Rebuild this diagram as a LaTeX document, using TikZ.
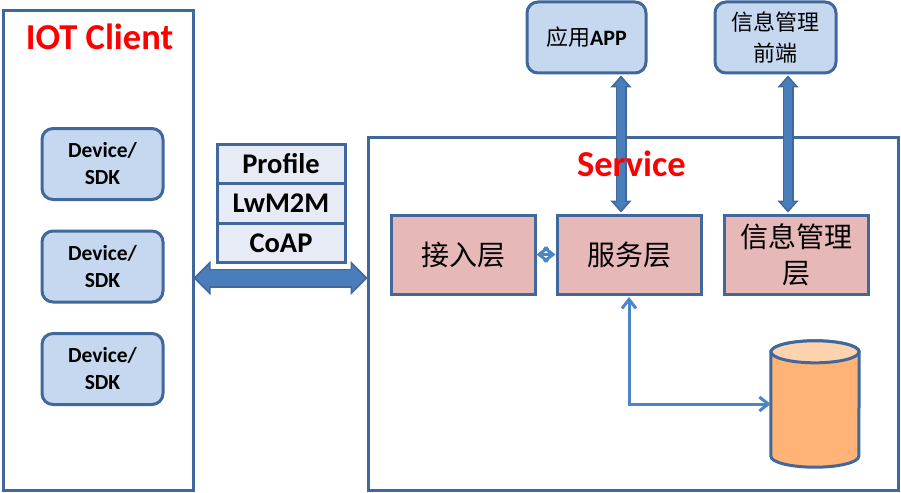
\documentclass[tikz,border=0pt]{standalone}
\usepackage{fontspec}
\setmainfont{Carlito}
\newfontfamily\cjk{Noto Sans CJK SC}
\usetikzlibrary{arrows.meta,calc}
\definecolor{edgeblue}{HTML}{41689C}
\definecolor{lightblue}{HTML}{C6D8F0}
\definecolor{paleblue}{HTML}{E6EBF5}
\definecolor{pinkfill}{HTML}{E6B8B7}
\definecolor{arrowblue}{HTML}{4A7EBB}
\definecolor{thinblue}{HTML}{4A86C8}
\definecolor{cylbody}{HTML}{FFB377}
\definecolor{cyltop}{HTML}{FFD3AE}
\tikzset{
  panel/.style={draw=edgeblue,line width=3pt,fill=white,rectangle,inner sep=0pt},
  softbox/.style={draw=edgeblue,line width=3pt,fill=lightblue,rectangle,rounded corners=11pt,inner sep=0pt,minimum height=71pt,align=center,font=\fontsize{21.5}{27}\selectfont\bfseries},
  stackbox/.style={draw=edgeblue,line width=3pt,fill=paleblue,rectangle,inner sep=0pt,minimum width=128pt,minimum height=39.5pt,font=\fontsize{28.5}{30}\selectfont\bfseries},
  layerbox/.style={draw=edgeblue,line width=3pt,fill=pinkfill,rectangle,inner sep=0pt,minimum width=144pt,minimum height=79pt,align=center,font=\cjk\fontsize{28}{36}\selectfont},
  heading/.style={text=red,inner sep=0pt,font=\fontsize{36.5}{38}\selectfont\bfseries},
  fatupborder/.style={line width=11pt,draw=edgeblue,{Triangle[width=21pt,length=12pt,color=edgeblue,fill=arrowblue,line width=1.5pt]}-{Triangle[width=21pt,length=12pt,color=edgeblue,fill=arrowblue,line width=1.5pt]}},
  fatupinner/.style={line width=7.5pt,draw=arrowblue,shorten <=10pt,shorten >=10pt},
  fatwideborder/.style={line width=19pt,draw=edgeblue,{Triangle[width=34pt,length=17pt,color=edgeblue,fill=arrowblue,line width=1.5pt]}-{Triangle[width=34pt,length=17pt,color=edgeblue,fill=arrowblue,line width=1.5pt]}},
  fatwideinner/.style={line width=15.5pt,draw=arrowblue,shorten <=15pt,shorten >=15pt},
  thinarrow/.style={draw=thinblue,line width=3pt,{Straight Barb[length=9pt,width=14pt]}-{Straight Barb[length=9pt,width=14pt]}},
  cyledge/.style={draw=edgeblue,line width=3pt}
}
\begin{document}
\begin{tikzpicture}[x=1pt,y=-1pt]
\useasboundingbox (0,0) rectangle (901,492);
\fill[white] (0,0) rectangle (901,492);
% panels
\node[panel,minimum width=190pt,minimum height=479pt] (client) at (98,250.5) {};
\node[panel,minimum width=530pt,minimum height=353pt] (service) at (633,313.5) {};
% client devices
\node[softbox,minimum width=121pt] (dev1) at (102.5,164) {Device/\\SDK};
\node[softbox,minimum width=121pt] (dev2) at (102.5,266.5) {Device/\\SDK};
\node[softbox,minimum width=121pt] (dev3) at (102.5,369) {Device/\\SDK};
% protocol stack
\node[stackbox] (profile) at (281,164) {Profile};
\node[stackbox] (lwm) at (281,203.5) {LwM2M};
\node[stackbox] (coap) at (281,243) {CoAP};
% top boxes
\node[softbox,minimum width=119pt,font=\fontsize{22}{32}\selectfont\bfseries] (app) at (586.5,37.5) {{\cjk\mdseries 应用}APP};
\node[softbox,minimum width=121pt,font=\cjk\fontsize{22}{31}\selectfont] (front) at (775.5,37.5) {信息管理\\前端};
% layers
\node[layerbox] (access) at (463,254.5) {接入层};
\node[layerbox] (svc) at (629,254.5) {服务层};
\node[layerbox] (mgmt) at (796,254.5) {信息管理\\层};
% database
\node[minimum width=88pt,minimum height=126pt,inner sep=0pt] (db) at (815,404) {};
\draw[cyledge,fill=cylbody] ($(db.north west)+(0,11)$) -- ($(db.south west)+(0,-11)$)
  arc[start angle=180,end angle=360,x radius=44pt,y radius=11pt]
  -- ($(db.north east)+(0,11)$)
  arc[start angle=0,end angle=180,x radius=44pt,y radius=11pt] -- cycle;
\draw[cyledge,fill=cyltop] ($(db.north)+(0,11)$) ellipse[x radius=44pt,y radius=11pt];
% fat connectors
\coordinate (linkL) at ($(client.east|-0,278)+(-1,0)$);
\coordinate (linkR) at ($(service.west|-0,278)+(1,0)$);
\draw[fatwideborder] (linkL) -- (linkR);
\draw[fatwideinner] (linkL) -- (linkR);
\coordinate (appA) at ($(app.south)+(34.5,1)$);
\coordinate (appB) at ($(svc.north)+(-8,-1)$);
\draw[fatupborder] (appA) -- (appB);
\draw[fatupinner] (appA) -- (appB);
\coordinate (frontA) at ($(front.south)+(12.5,1)$);
\coordinate (frontB) at ($(mgmt.north)+(-8,-1)$);
\draw[fatupborder] (frontA) -- (frontB);
\draw[fatupinner] (frontA) -- (frontB);
% thin connectors
\draw[thinarrow] (access.east) -- (svc.west);
\draw[thinarrow] ($(svc.south)+(0,1.5)$) |- (db.west);
% headings
\node[heading] (clienttitle) at (99.5,37) {IOT Client};
\node[heading] (servicetitle) at (631.5,163.5) {Service};
\end{tikzpicture}
\end{document}
